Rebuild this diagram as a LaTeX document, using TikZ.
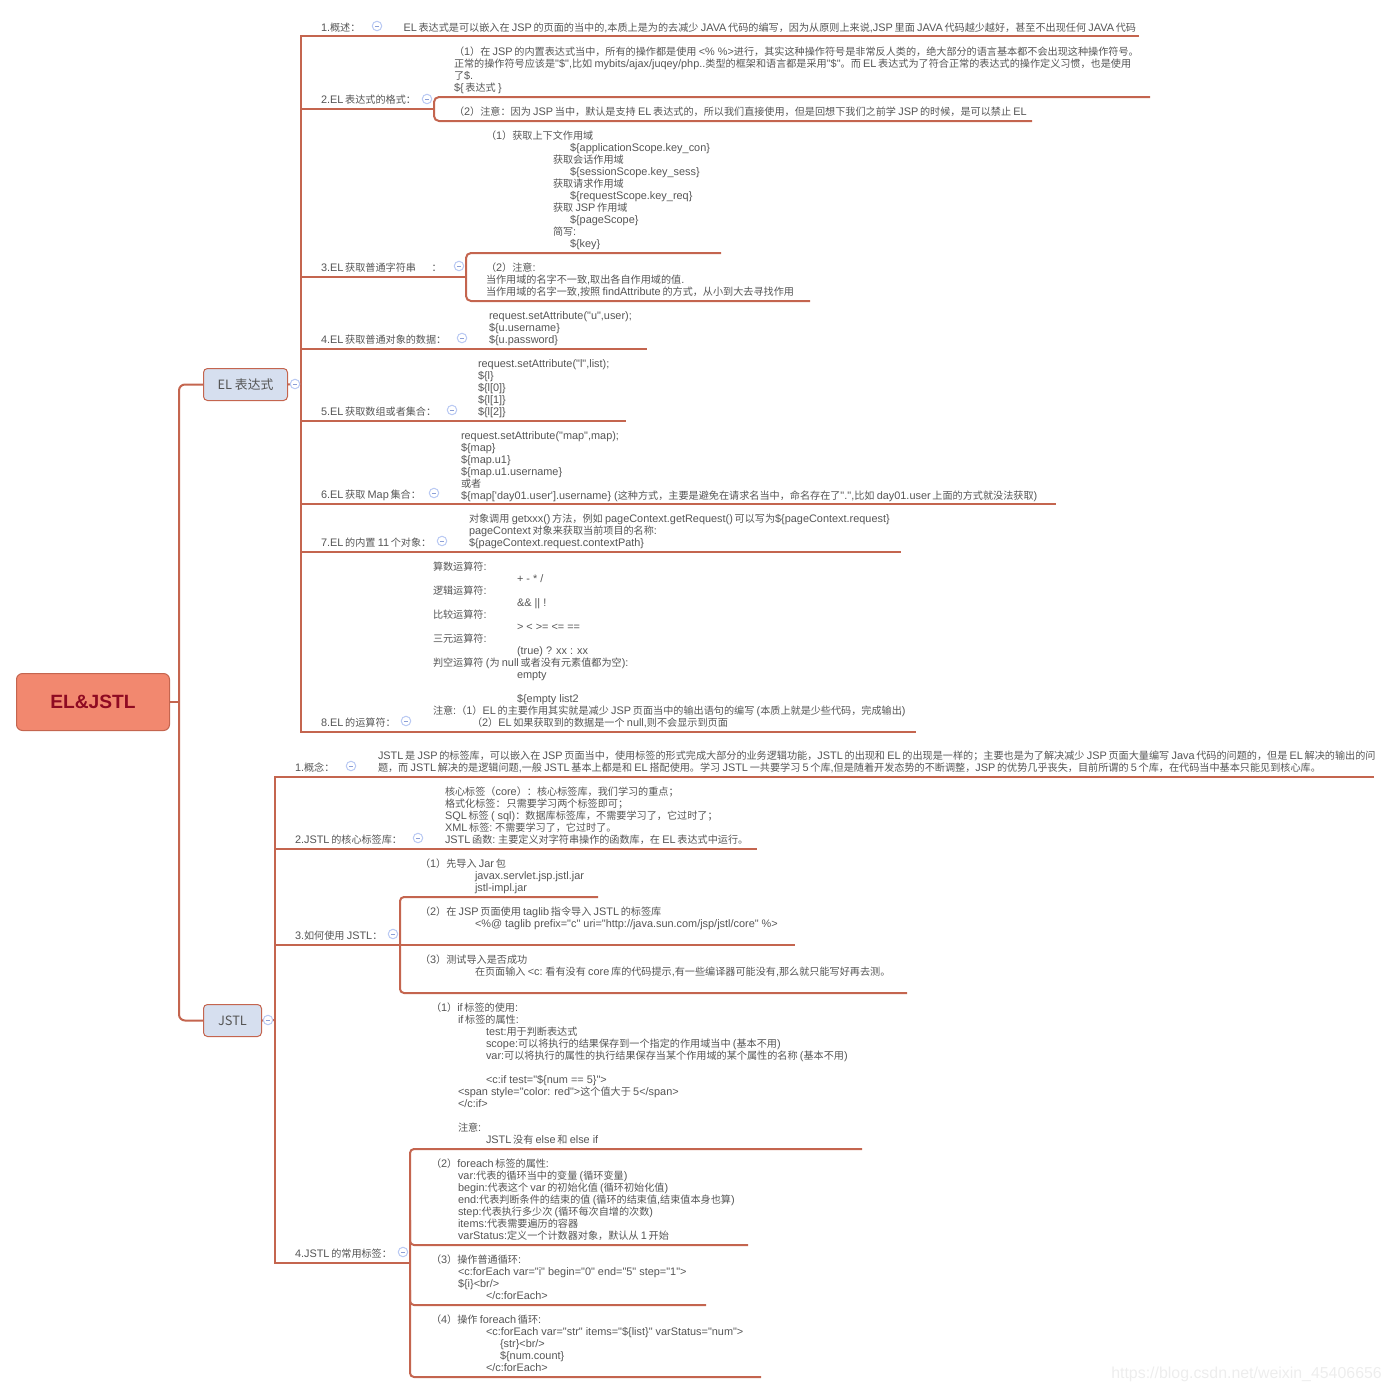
\documentclass[tikz,border=0pt]{standalone}
\usepackage{fontspec}
\newfontfamily\nf{Noto Sans CJK SC}
\newfontfamily\lsans{Liberation Sans}
% Latin in Liberation Sans, CJK in Noto Sans CJK SC, switched by character class
\font\latf="Liberation Sans" at 10.9pt
\font\cjkf="Noto Sans CJK SC" at 10.12pt
\newXeTeXintercharclass\cjkclass
\newcount\cc
\cc="3000 \loop\ifnum\cc<"3040 \XeTeXcharclass\cc=\cjkclass \advance\cc 1 \repeat
\cc="4E00 \loop\ifnum\cc<"9FA6 \XeTeXcharclass\cc=\cjkclass \advance\cc 1 \repeat
\cc="FF00 \loop\ifnum\cc<"FF60 \XeTeXcharclass\cc=\cjkclass \advance\cc 1 \repeat
\XeTeXinterchartoks 0 \cjkclass = {\cjkf}
\XeTeXinterchartoks \cjkclass 0 = {\latf}
\XeTeXinterchartoks 4095 \cjkclass = {\cjkf\ifdim\lastskip>0pt \kern-1.3pt\fi}
\XeTeXinterchartoks 4095 0 = {\latf}
\newcommand\txtf{\fontsize{10}{12}\selectfont\latf\XeTeXinterchartokenstate=1 \lineskiplimit=-100pt\relax}
\newcommand\fl{\rule{0pt}{12pt}}
\newcommand\ind[1]{\hspace*{#1pt}}
\definecolor{lnk}{HTML}{C4654F}
\definecolor{txt}{HTML}{555555}
\definecolor{btn}{HTML}{B9C9F3}
\definecolor{btnm}{HTML}{8C9FD6}
\definecolor{rootfill}{HTML}{F2886F}
\definecolor{rootink}{HTML}{8F0A22}
\definecolor{subfill}{HTML}{D6DFEF}
\tikzset{
 link/.style={draw=lnk,line width=2pt},
 tb/.style={anchor=north west,inner sep=0pt,outer sep=0pt,align=left,text=txt,font=\txtf},
 rootbox/.style={draw=lnk,fill=rootfill,rounded corners=6pt,line width=1pt,minimum width=153pt,minimum height=57pt,inner sep=0pt,text=rootink,font=\lsans\fontsize{19.2}{24}\selectfont\bfseries},
 subbox/.style={draw=lnk,fill=subfill,rounded corners=4pt,line width=1pt,minimum height=32pt,inner sep=0pt,text=txt,font=\nf\fontsize{12.8}{15}\selectfont},
 cbtn/.style={circle,draw=btn,fill=white,line width=1pt,minimum size=9.5pt,inner sep=0pt,
   path picture={\draw[btnm,line width=.8pt] ([xshift=2.5pt]path picture bounding box.west) -- ([xshift=-2.5pt]path picture bounding box.east);}},
}
\begin{document}
\begin{tikzpicture}[x=1pt,y=-1pt]
\useasboundingbox (0,0) rectangle (1391,1393);
% boxes
\node[rootbox] (root) at (93,702) {\raisebox{-1pt}{EL\&JSTL}};
\node[subbox,minimum width=84pt] (el) at (245.5,384.5) {EL 表达式};
\node[subbox,minimum width=58pt] (jstl) at (232.5,1020.5) {JSTL};
% coordinates
\coordinate (A) at (179,702);
\coordinate (Eb) at (301,384);
\coordinate (Jb) at (275,1020);
\foreach \n/\x/\y in {e1e/1139/36,e2j/301/109,e2b/434/109,e2ae/1150/97,e2be/1032/121,
 e3j/301/277,e3b/466/277,e3ae/721/253,e3be/810/301,
 e4j/301/349,e4e/647/349,e5j/301/421,e5e/626/421,e6j/301/504,e6e/1056/504,e7j/301/552,e7e/901/552,e8e/916/732,
 j1e/1374/777,j2j/275/849,j2e/757/849,j3j/275/945,j3b/400/945,j3ae/598/897,j3be/795/945,j3ce/907/993,
 j4b/410/1263,j4ae/862/1149,j4be/748/1245,j4ce/706/1305,j4de/761/1377,j4bs/410/1220,j4cs/410/1290}
 {\coordinate (\n) at (\x,\y);}
% connectors
\draw[link] (root.east) -- (A);
\draw[link,rounded corners=6pt] (el.west) -| (A) |- (jstl.west);
\draw[link] (el.east) -- (Eb);
\draw[link] (jstl.east) -- (Jb);
\draw[link] (e1e) -| (Eb) |- (e8e);
\draw[link] (e2j) -- (e2b);
\draw[link,rounded corners=5pt] (e2ae) -| (e2b) |- (e2be);
\draw[link] (e3j) -- (e3b);
\draw[link,rounded corners=5pt] (e3ae) -| (e3b) |- (e3be);
\draw[link] (e4j) -- (e4e);
\draw[link] (e5j) -- (e5e);
\draw[link] (e6j) -- (e6e);
\draw[link] (e7j) -- (e7e);
\draw[link] (j1e) -| (Jb) |- (j4b);
\draw[link] (j2j) -- (j2e);
\draw[link] (j3j) -- (j3be);
\draw[link,rounded corners=4pt] (j3ae) -| (j3b) |- (j3ce);
\draw[link,rounded corners=4pt] (j4ae) -| (j4b) |- (j4de);
\draw[link,rounded corners=4pt] (j4bs) |- (j4be);
\draw[link,rounded corners=4pt] (j4cs) |- (j4ce);
% EL labels
\node[tb] (l1) at (321,19) {\fl 1.概述：};
\node[tb] (l2) at (321,91) {\fl 2.EL 表达式的格式：};
\node[tb] (l3) at (321,259) {\fl 3.EL 获取普通字符串\hspace{17pt}：};
\node[tb] (l4) at (321,331) {\fl 4.EL 获取普通对象的数据：};
\node[tb] (l5) at (321,403) {\fl 5.EL 获取数组或者集合：};
\node[tb] (l6) at (321,486) {\fl 6.EL 获取 Map 集合：};
\node[tb] (l7) at (321,534) {\fl 7.EL 的内置 11 个对象：};
\node[tb] (l8) at (321,714) {\fl 8.EL 的运算符：};
% EL contents
\node[tb] (t1) at (403.5,19) {\fl EL 表达式是可以嵌入在 JSP 的页面的当中的,本质上是为的去减少 JAVA 代码的编写，因为从原则上来说,JSP 里面 JAVA 代码越少越好，甚至不出现任何 JAVA 代码};
\node[tb] (t2a) at (454,43) {\fl （1）在 JSP 的内置表达式当中，所有的操作都是使用 <\% \%>进行，其实这种操作符号是非常反人类的，绝大部分的语言基本都不会出现这种操作符号。\\
正常的操作符号应该是"\$",比如 mybits/ajax/juqey/php..类型的框架和语言都是采用"\$"。而 EL 表达式为了符合正常的表达式的操作定义习惯，也是使用\\
了\$.\\
\$\{ 表达式 \}};
\node[tb] (t2b) at (454,103) {\fl （2）注意：因为 JSP 当中，默认是支持 EL 表达式的，所以我们直接使用，但是回想下我们之前学 JSP 的时候，是可以禁止 EL};
\node[tb] (t3a) at (486,127) {\fl （1）获取上下文作用域\\
\ind{84}\$\{applicationScope.key\_con\}\\
\ind{67}获取会话作用域\\
\ind{84}\$\{sessionScope.key\_sess\}\\
\ind{67}获取请求作用域\\
\ind{84}\$\{requestScope.key\_req\}\\
\ind{67}获取 JSP 作用域\\
\ind{84}\$\{pageScope\}\\
\ind{67}简写:\\
\ind{84}\$\{key\}};
\node[tb] (t3b) at (486,259) {\fl （2）注意:\\
当作用域的名字不一致,取出各自作用域的值.\\
当作用域的名字一致,按照 findAttribute 的方式，从小到大去寻找作用};
\node[tb] (t4) at (489,307) {\fl request.setAttribute("u",user);\\
\$\{u.username\}\\
\$\{u.password\}};
\node[tb] (t5) at (478,355) {\fl request.setAttribute("l",list);\\
\$\{l\}\\
\$\{l[0]\}\\
\$\{l[1]\}\\
\$\{l[2]\}};
\node[tb] (t6) at (461,427) {\fl request.setAttribute("map",map);\\
\$\{map\}\\
\$\{map.u1\}\\
\$\{map.u1.username\}\\
或者\\
\$\{map['day01.user'].username\} (这种方式，主要是避免在请求名当中，命名存在了".",比如 day01.user 上面的方式就没法获取)};
\node[tb] (t7) at (469,510) {\fl 对象调用 getxxx() 方法，例如 pageContext.getRequest() 可以写为\$\{pageContext.request\}\\
pageContext 对象来获取当前项目的名称:\\
\$\{pageContext.request.contextPath\}};
\node[tb] (t8) at (433,558) {\fl 算数运算符:\\
\ind{84}+ - * /\\
逻辑运算符:\\
\ind{84}\&\& || !\\
比较运算符:\\
\ind{84}> < >= <= ==\\
三元运算符:\\
\ind{84}(true) ? xx : xx\\
判空运算符 (为 null 或者没有元素值都为空):\\
\ind{84}empty\\
\mbox{}\\
\ind{84}\$\{empty list2\\
注意:（1）EL 的主要作用其实就是减少 JSP 页面当中的输出语句的编写 (本质上就是少些代码，完成输出)\\
\ind{39}（2）EL 如果获取到的数据是一个 null,则不会显示到页面};
% JSTL labels
\node[tb] (m1) at (295,759) {\fl 1.概念：};
\node[tb] (m2) at (295,831) {\fl 2.JSTL 的核心标签库：};
\node[tb] (m3) at (295,927) {\fl 3.如何使用 JSTL：};
\node[tb] (m4) at (295,1245) {\fl 4.JSTL 的常用标签：};
% JSTL contents
\node[tb] (u1) at (378,747) {\fl JSTL 是 JSP 的标签库，可以嵌入在 JSP 页面当中，使用标签的形式完成大部分的业务逻辑功能，JSTL 的出现和 EL 的出现是一样的；主要也是为了解决减少 JSP 页面大量编写 Java 代码的问题的，但是 EL 解决的输出的问\\
题，而 JSTL 解决的是逻辑问题,一般 JSTL 基本上都是和 EL 搭配使用。学习 JSTL 一共要学习 5 个库,但是随着开发态势的不断调整，JSP 的优势几乎丧失，目前所谓的 5 个库，在代码当中基本只能见到核心库。};
\node[tb] (u2) at (445,783) {\fl 核心标签（core）：核心标签库，我们学习的重点；\\
格式化标签： 只需要学习两个标签即可；\\
SQL 标签 ( sql)：数据库标签库，不需要学习了，它过时了；\\
XML 标签: 不需要学习了，它过时了。\\
JSTL 函数: 主要定义对字符串操作的函数库，在 EL 表达式中运行。};
\node[tb] (u3a) at (420,855) {\fl （1）先导入 Jar 包\\
\ind{55}javax.servlet.jsp.jstl.jar\\
\ind{55}jstl-impl.jar};
\node[tb] (u3b) at (420,903) {\fl （2）在 JSP 页面使用 taglib 指令导入 JSTL 的标签库\\
\ind{55}<\%@ taglib prefix="c" uri="http://java.sun.com/jsp/jstl/core" \%>};
\node[tb] (u3c) at (420,951) {\fl （3）测试导入是否成功\\
\ind{55}在页面输入 <c: 看有没有 core 库的代码提示,有一些编译器可能没有,那么就只能写好再去测。};
\node[tb] (u4a) at (431,999) {\fl （1）if 标签的使用:\\
\ind{27}if 标签的属性:\\
\ind{55}test:用于判断表达式\\
\ind{55}scope:可以将执行的结果保存到一个指定的作用域当中 (基本不用)\\
\ind{55}var:可以将执行的属性的执行结果保存当某个作用域的某个属性的名称 (基本不用)\\
\mbox{}\\
\ind{55}<c:if test="\$\{num == 5\}">\\
\ind{27}<span style="color: red">这个值大于 5</span>\\
\ind{27}</c:if>\\
\mbox{}\\
\ind{27}注意:\\
\ind{55}JSTL 没有 else 和 else if};
\node[tb] (u4b) at (431,1155) {\fl （2）foreach 标签的属性:\\
\ind{27}var:代表的循环当中的变量 (循环变量)\\
\ind{27}begin:代表这个 var 的初始化值 (循环初始化值)\\
\ind{27}end:代表判断条件的结束的值 (循环的结束值,结束值本身也算)\\
\ind{27}step:代表执行多少次 (循环每次自增的次数)\\
\ind{27}items:代表需要遍历的容器\\
\ind{27}varStatus:定义一个计数器对象，默认从 1 开始};
\node[tb] (u4c) at (431,1251) {\fl （3）操作普通循环:\\
\ind{27}<c:forEach var="i" begin="0" end="5" step="1">\\
\ind{27}\$\{i\}<br/>\\
\ind{55}</c:forEach>};
\node[tb] (u4d) at (431,1311) {\fl （4）操作 foreach 循环:\\
\ind{55}<c:forEach var="str" items="\$\{list\}" varStatus="num">\\
\ind{69}\{str\}<br/>\\
\ind{69}\$\{num.count\}\\
\ind{55}</c:forEach>};
% collapse buttons
\node[cbtn] (b0) at (295,384) {};
\node[cbtn] (b1) at (377,26) {};
\node[cbtn] (b2) at (427,99) {};
\node[cbtn] (b3) at (459,266) {};
\node[cbtn] (b4) at (462,338) {};
\node[cbtn] (b5) at (452,410) {};
\node[cbtn] (b6) at (434,493) {};
\node[cbtn] (b7) at (442,541) {};
\node[cbtn] (b8) at (406,721) {};
\node[cbtn] (c0) at (268,1020) {};
\node[cbtn] (c1) at (351,766) {};
\node[cbtn] (c2) at (418,838) {};
\node[cbtn] (c3) at (393,934) {};
\node[cbtn] (c4) at (403,1252) {};
% watermark
\node[anchor=east,inner sep=0pt,text=black!7,font=\lsans\fontsize{15.9}{20}\selectfont] (wm) at (1382,1374) {https://blog.csdn.net/weixin\_45406656};
\end{tikzpicture}
\end{document}
